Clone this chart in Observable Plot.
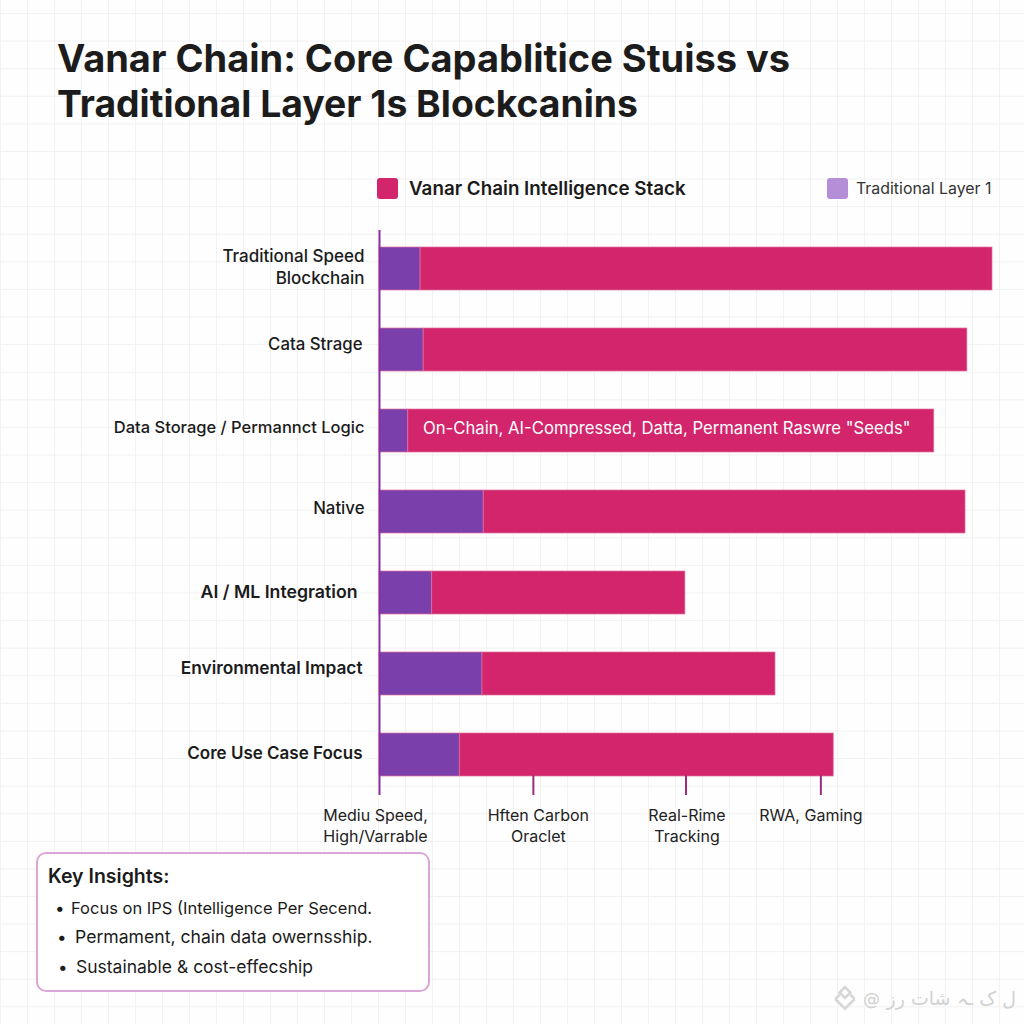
<!DOCTYPE html>
<html><head><meta charset="utf-8">
<script src="https://cdn.jsdelivr.net/npm/d3@7"></script>
<script src="https://cdn.jsdelivr.net/npm/@observablehq/plot@0.6"></script>
<style>
html,body{margin:0;padding:0;width:1024px;height:1024px;overflow:hidden;background-color:#fefefe;
 background-image:linear-gradient(#f2f2f2 1px,transparent 1px),linear-gradient(90deg,#f2f2f2 1px,transparent 1px);
 background-size:27px 27.6px;background-position:0px 13px;font-family:Inter,sans-serif;color:#1b1b1b}
#chart{position:absolute;left:0;top:0}
.a{position:absolute;white-space:pre}
</style></head><body>
<div class="a" style="left:57px;top:35px;font-size:38px;font-weight:700;line-height:46px;color:#1c1c1c">Vanar Chain: Core Capablitice Stuiss vs</div>
<div class="a" style="left:57px;top:81px;font-size:37.3px;font-weight:700;line-height:46px;color:#1c1c1c">Traditional Layer 1s Blockcanins</div>
<div class="a" style="left:377px;top:178px;width:21px;height:21px;border-radius:3px;background:#d2256c"></div>
<div class="a" style="left:409px;top:177px;font-size:18.8px;font-weight:600;line-height:23px">Vanar Chain Intelligence Stack</div>
<div class="a" style="left:827px;top:178px;width:21px;height:21px;border-radius:3px;background:#b48fd8"></div>
<div class="a" style="left:856px;top:177px;font-size:15.9px;line-height:23px;color:#333">Traditional Layer 1</div>
<div id="chart"></div>
<div class="a" style="left:36px;top:852px;width:390px;height:136px;border:2px solid #dba6d6;border-radius:10px;background:#fff"></div>
<div class="a" style="left:48px;top:864px;font-size:19.5px;font-weight:600;line-height:24px">Key Insights:</div>
<div class="a" style="left:55px;top:897px;font-size:17px;line-height:22px">•</div><div class="a" style="left:71px;top:897px;font-size:16.5px;line-height:22px">Focus on IPS (Intelligence Per Secend.</div>
<div class="a" style="left:57px;top:926px;font-size:17px;line-height:22px">•</div><div class="a" style="left:75px;top:926px;font-size:17.6px;line-height:22px">Permament, chain data owernsship.</div>
<div class="a" style="left:58px;top:956px;font-size:17px;line-height:22px">•</div><div class="a" style="left:76px;top:956px;font-size:17.5px;line-height:22px">Sustainable &amp; cost-effecship</div>
<div class="a" style="left:831px;top:985px;width:28px;height:28px"><svg width="28" height="28" viewBox="0 0 26 26" style="overflow:visible"><g fill="none" stroke="#d6d6d6" stroke-width="2.4"><path d="M13 2l5 5-5 5-5-5z"/><path d="M4 13l4-4M22 13l-4-4M4 13l9 9 9-9"/></g></svg></div>
<div class="a" style="left:863px;top:986px;font-size:17px;line-height:26px;color:#cfcfcf;font-family:'DejaVu Sans'">@</div>
<div class="a" style="left:892px;top:985px;width:124px;text-align:right;font-size:19px;line-height:26px;color:#d2d2d2;font-family:'DejaVu Sans';direction:rtl">ل ک ـہ شات رز</div>
<script>
const categories = ["Traditional Speed\nBlockchain","Cata Strage","Data Storage / Permannct Logic","Native","AI / ML Integration","Environmental Impact","Core Use Case Focus"];
const traditional = [6.7,7.2,4.7,17.0,8.6,16.8,13.1];
const vanar = [93.3,88.7,85.8,78.6,41.3,47.8,61.0];
const xTicks = [0,25.1,50,72];
const tickLabels = ["Mediu Speed,\nHigh/Varrable","Hften Carbon\nOraclet","Real-Rime\nTracking","RWA, Gaming"];
const tickNudge = [-4,5,1,-10];
const barNote = "On-Chain, AI-Compressed, Datta, Permanent Raswre \"Seeds\"";
const labelNudgeX = [0,-2,0,0,-7,-2,-2];
const labelNudgeY = [-3,-7,-5,-5,-2,-7,-3];
const labelSize = [17,16.8,16.5,16.8,17.7,17.3,17];
const labelWeight = [500,500,500,500,600,600,600];

const rows = categories.flatMap((c,i)=>[
  {c,series:"Traditional Layer 1",v:traditional[i]},
  {c,series:"Vanar Chain Intelligence Stack",v:vanar[i]}
]);
const labelRows = categories.map((c,i)=>({c,dx:labelNudgeX[i],dy:labelNudgeY[i],s:labelSize[i],w:labelWeight[i]}));

const plot = Plot.plot({
  width:1024,height:1024,
  marginLeft:379,marginRight:32,marginTop:230,marginBottom:229,
  style:{background:"transparent",fontFamily:"Inter,sans-serif",overflow:"visible"},
  x:{domain:[0,100],axis:null},
  y:{domain:categories,axis:null,paddingInner:0.465,paddingOuter:0.2,align:0.475},
  color:{domain:["Traditional Layer 1","Vanar Chain Intelligence Stack"],range:["#7b3fab","#d2256c"]},
  marks:[
    Plot.barX(rows,{x:"v",y:"c",fill:"series",order:null,stroke:"#e4719f",strokeWidth:0.7}),
    Plot.ruleX([0],{stroke:"#8b2ea3",strokeWidth:2}),
    Plot.ruleX(xTicks.slice(1),{stroke:"#a02a7e",strokeWidth:2,insetTop:545}),
    ...xTicks.map((t,i)=>Plot.text([tickLabels[i]],{x:()=>t,frameAnchor:"bottom",dy:11,dx:tickNudge[i],lineAnchor:"top",lineHeight:1.3,fontSize:16,fill:"#222",text:d=>d})),
    ...labelRows.map(r=>Plot.text([r],{x:()=>0,y:"c",text:"c",textAnchor:"end",dx:-15+r.dx,dy:r.dy,fontSize:r.s,fontWeight:r.w,lineHeight:1.32,fill:"#1b1b1b"})),
    Plot.text([barNote],{x:()=>7,y:()=>categories[2],text:d=>d,textAnchor:"start",dy:-2,dx:0.5,fontSize:16.7,fill:"#fff"})
  ]
});
document.getElementById("chart").appendChild(plot);
</script>
</body></html>
